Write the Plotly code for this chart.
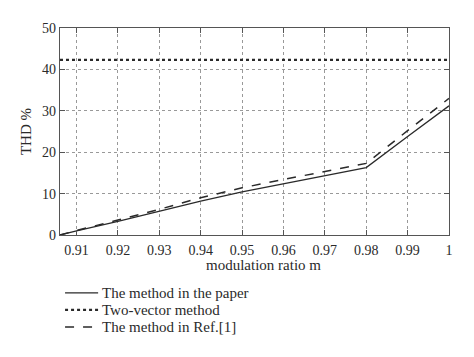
import plotly.graph_objects as go

m = [0.906, 0.91, 0.92, 0.93, 0.94, 0.95, 0.96, 0.97, 0.98, 0.99, 1.0]
thd_paper = [0.0, 1.0, 3.3, 5.8, 8.2, 10.4, 12.4, 14.4, 16.3, 23.8, 31.2]
thd_ref1 = [0.0, 1.1, 3.6, 6.2, 9.0, 11.4, 13.4, 15.4, 17.3, 25.2, 33.0]
m_two = [0.906, 1.0]
thd_two = [42.3, 42.3]

xticks = [0.91, 0.92, 0.93, 0.94, 0.95, 0.96, 0.97, 0.98, 0.99, 1.0]
xticklabels = ["0.91", "0.92", "0.93", "0.94", "0.95", "0.96", "0.97", "0.98", "0.99", "1"]
yticks = [0, 10, 20, 30, 40, 50]
legend_names = ["The method in the paper", "Two-vector method", "The method in Ref.[1]"]

font = "Liberation Serif"
ink = "#2a2a2a"
styles = [dict(width=1.3, dash="solid"), dict(width=2.2, dash="dot"), dict(width=1.5, dash="dash")]

fig = go.Figure()
series = [(m, thd_paper), (m_two, thd_two), (m, thd_ref1)]
for (xs, ys), name, st in zip(series, legend_names, styles):
    fig.add_trace(go.Scatter(x=xs, y=ys, mode="lines", name=name,
                             line=dict(color=ink, **st), showlegend=False))

# manual legend below the plot (paper coordinates)
row_y = [-0.280, -0.362, -0.444]
for name, st, yy in zip(legend_names, styles, row_y):
    fig.add_shape(type="line", xref="paper", yref="paper", x0=0.013, x1=0.098, y0=yy, y1=yy,
                  line=dict(color=ink, width=st["width"], dash=st["dash"]))
    fig.add_annotation(xref="paper", yref="paper", x=0.104, y=yy, xanchor="left", yanchor="middle",
                       text=name, showarrow=False, font=dict(family=font, size=15, color=ink))

# x-axis title
fig.add_annotation(xref="paper", yref="paper", x=0.522, y=-0.145, xanchor="center", yanchor="middle",
                   text="modulation ratio m", showarrow=False, font=dict(family=font, size=15, color=ink))

axis_common = dict(
    showline=True, linecolor="#555555", linewidth=1.2, mirror="ticks",
    ticks="inside", ticklen=5, tickcolor="#555555",
    showgrid=True, gridcolor="#999999", griddash="dot", gridwidth=1,
    zeroline=False, tickfont=dict(family=font, size=14, color=ink),
)

fig.update_xaxes(range=[0.906, 1.0], tickvals=xticks, ticktext=xticklabels, ticklabelstandoff=2,
                 **axis_common)
fig.update_yaxes(range=[0, 50], tickvals=yticks,
                 title=dict(text="THD %", font=dict(family=font, size=15, color=ink), standoff=6),
                 **axis_common)

fig.update_layout(
    width=474, height=357,
    margin=dict(l=60, r=25, t=28, b=122),
    paper_bgcolor="white", plot_bgcolor="white",
    font=dict(family=font, color=ink),
    showlegend=False,
)

fig.write_html("out.html")
